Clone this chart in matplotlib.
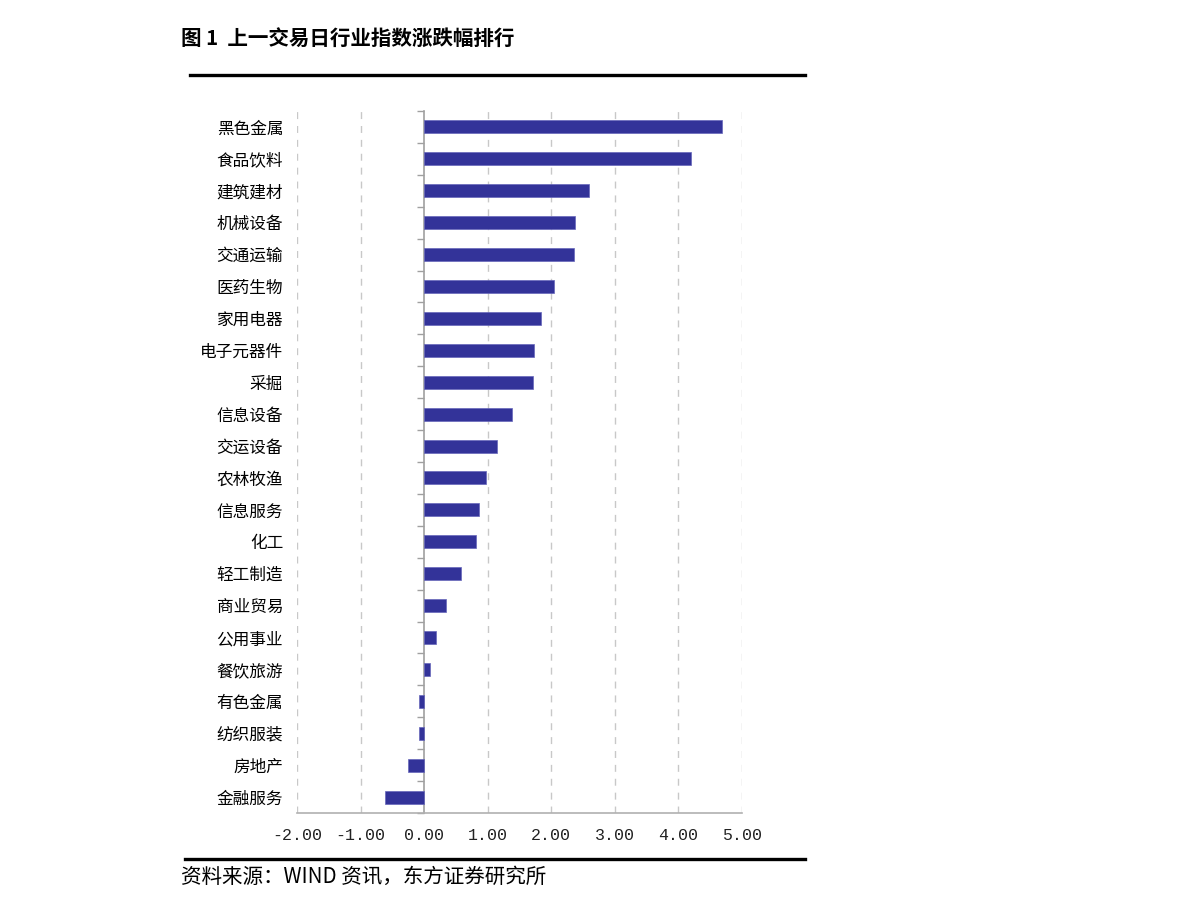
import matplotlib
matplotlib.use("Agg")
import matplotlib.pyplot as plt
from matplotlib.lines import Line2D

plt.rcParams['font.family'] = ['Noto Sans CJK SC', 'DejaVu Sans']

categories = ["黑色金属", "食品饮料", "建筑建材", "机械设备", "交通运输", "医药生物",
              "家用电器", "电子元器件", "采掘", "信息设备", "交运设备", "农林牧渔",
              "信息服务", "化工", "轻工制造", "商业贸易", "公用事业", "餐饮旅游",
              "有色金属", "纺织服装", "房地产", "金融服务"]
values = [4.69, 4.20, 2.60, 2.37, 2.35, 2.05, 1.84, 1.73, 1.71, 1.38, 1.15, 0.98,
          0.87, 0.82, 0.58, 0.34, 0.19, 0.09, -0.08, -0.08, -0.25, -0.62]
xticks = [-2, -1, 0, 1, 2, 3, 4, 5]
xtick_labels = ["-2.00", "-1.00", "0.00", "1.00", "2.00", "3.00", "4.00", "5.00"]

title = "图 1  上一交易日行业指数涨跌幅排行"
source = "资料来源：WIND 资讯，东方证券研究所"

W, H = 1191, 907
fig = plt.figure(figsize=(W / 100, H / 100), dpi=100)

ax = fig.add_axes([297 / W, 1 - 813 / H, (742 - 297) / W, (813 - 111) / H])
y = list(range(len(categories)))
ax.barh(y, values, height=0.41, color="#333399", edgecolor="#6666bb", linewidth=0.5, zorder=3)

xmin, xmax = -2, 5
ax.set_xlim(xmin, xmax)
ax.set_ylim(len(categories) - 0.5, -0.5)

# vertical dashed grid
for xv in xticks:
    if xv != 0:
        ax.axvline(xv, color="#c8c8c8", linewidth=1.0, linestyle=(0, (5, 5)), zorder=1)

ax.set_xticks(xticks)
ax.set_xticklabels(xtick_labels, family="Liberation Mono", fontsize=12, color="#222222")
ax.tick_params(axis="x", length=0, pad=11)

ax.set_yticks(y)
ax.set_yticklabels(categories, fontsize=12)
ax.tick_params(axis="y", length=0, pad=10)

for s in ["top", "right", "left"]:
    ax.spines[s].set_visible(False)
ax.spines["bottom"].set_color("#b0b0b0")
ax.spines["bottom"].set_linewidth(1.2)

# zero axis with category boundary ticks
loc = (0 - xmin) / (xmax - xmin)
sec = ax.secondary_yaxis(loc)
sec.set_yticks([i - 0.5 for i in range(len(categories) + 1)])
sec.set_yticklabels([])
sec.tick_params(axis="y", direction="out", length=5, color="#a0a0a0", width=1)
sec.spines["left"].set_color("#a0a0a0")
sec.spines["left"].set_linewidth(1.2)

# title and separators
fig.text(181 / W, 1 - 38 / H, title, fontsize=14.8, fontweight="bold", va="center", ha="left")
fig.add_artist(Line2D([190 / W, 805 / W], [1 - 75 / H, 1 - 75 / H], color="black", linewidth=2.4))
fig.add_artist(Line2D([185 / W, 805 / W], [1 - 859 / H, 1 - 859 / H], color="black", linewidth=2.4))
fig.text(181 / W, 1 - 877 / H, source, fontsize=14.8, va="center", ha="left")

fig.savefig("out.png", dpi=100)
